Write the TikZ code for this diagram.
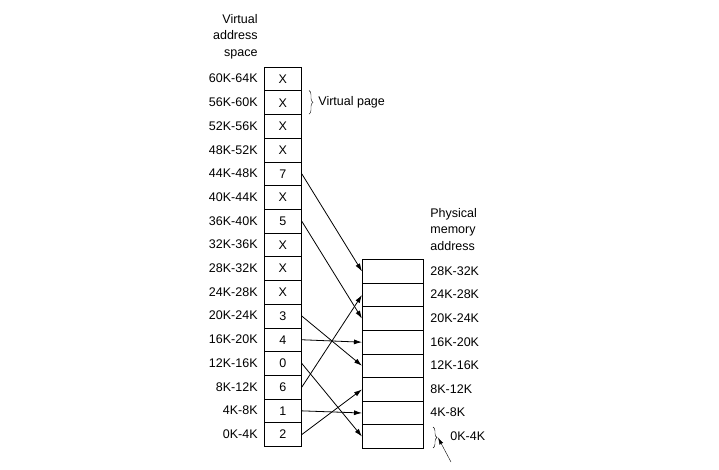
\documentclass[tikz,border=0pt]{standalone}
\usepackage{fontspec}
\setmainfont{Liberation Sans}
\usetikzlibrary{decorations.pathreplacing,arrows.meta}
\begin{document}
\begin{tikzpicture}[x=1pt,y=-1pt,font=\fontsize{12.5}{16.5}\selectfont,line width=0.8pt,
  vbox/.style={draw,minimum width=37pt,minimum height=23.7pt,inner sep=0pt,anchor=north west},
  pbox/.style={draw,minimum width=61pt,minimum height=23.6pt,inner sep=0pt,anchor=north west},
  map/.style={-{Latex[length=8pt,width=5pt]}}]
\useasboundingbox (0,0) rectangle (719,470);
\node[align=right,anchor=south east,inner sep=0pt] (vh) at (258,59) {Virtual\\address\\space};
\node[align=left,anchor=south west,inner sep=0pt] (ph) at (430,251) {Physical\\memory\\address};
\foreach \i/\c in {0/2,1/1,2/6,3/0,4/4,5/3,6/X,7/X,8/X,9/5,10/X,11/7,12/X,13/X,14/X,15/X}{
  \pgfmathsetmacro\lo{int(4*\i)}\pgfmathsetmacro\hi{int(4*\i+4)}
  \node[vbox] (v\i) at (264,{446-23.7*(\i+1)}) {\c};
  \node[anchor=east,inner sep=0pt] (vl\i) at (258,{446-23.7*(\i+0.5)}) {\lo K-\hi K};
}
\foreach \j in {0,...,7}{
  \pgfmathsetmacro\lo{int(4*\j)}\pgfmathsetmacro\hi{int(4*\j+4)}
  \node[pbox] (p\j) at (362,{448-23.6*(\j+1)}) {};
  \ifnum\j>0
  \node[anchor=west,inner sep=0pt] (pl\j) at (430,{448-23.6*(\j+0.5)}) {\lo K-\hi K};
  \fi
}
\node[anchor=west,inner sep=0pt] (pl0) at (450,{448-23.6*0.5}) {0K-4K};
\foreach \a/\b in {11/7,9/5,5/3,4/4,3/0,2/6,1/1,0/2}
  \draw[map] (v\a.east) -- (p\b.west);
\draw[thin,decorate,decoration={brace,amplitude=4pt}] (309,{446-23.7*15}) -- (309,{446-23.7*14});
\node[anchor=west,inner sep=0pt] (vpl) at (318,{446-23.7*14.5}) {Virtual page};
\draw[thin,decorate,decoration={brace,amplitude=4pt}] (433,427) -- (433,448) coordinate[pos=0.5,xshift=5pt] (pb);
\coordinate (pt) at (451,462);
\draw[thin,-{Latex[length=7pt,width=4pt]}] (pt) -- (pb);
\end{tikzpicture}
\end{document}
